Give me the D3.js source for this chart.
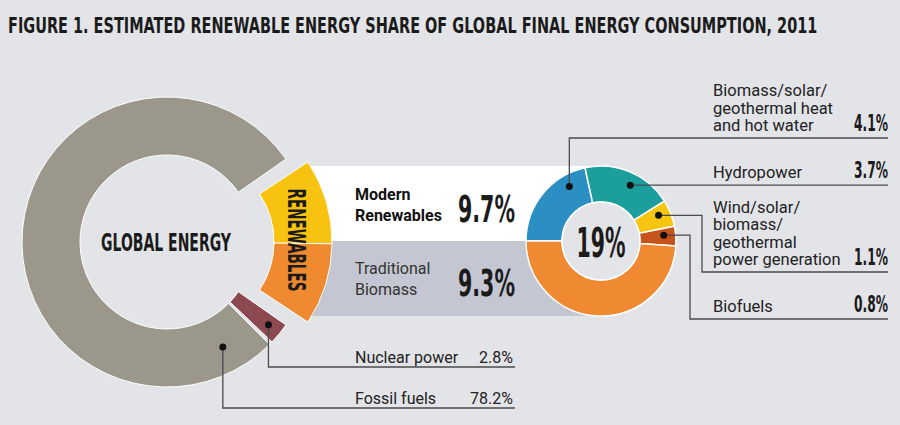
<!DOCTYPE html>
<html>
<head>
<meta charset="utf-8">
<script src="https://cdn.jsdelivr.net/npm/d3@7"></script>
<style>
  body { margin: 0; background: #e3e4e8; }
  svg { display: block; }
</style>
</head>
<body>
<div id="chart"></div>
<script>
// global energy split
var globalLabels = ["Renewables", "Nuclear power", "Fossil fuels"];
var globalValues = [19, 2.8, 78.2];

// renewables split
var renewLabels = [["Modern", "Renewables"], ["Traditional", "Biomass"]];
var renewValues = [9.7, 9.3];

// inner donut of renewables
var shareLabels = [
  ["Biomass/solar/", "geothermal heat", "and hot water"],
  ["Hydropower"],
  ["Wind/solar/", "biomass/", "geothermal", "power generation"],
  ["Biofuels"],
  ["Traditional Biomass"]
];
var shareValues = [4.1, 3.7, 1.1, 0.8, 9.3];

var width = 900, height = 425;
var condFont = "'Liberation Sans Narrow', 'DejaVu Sans Condensed', sans-serif";
var bodyFont = "Roboto, 'Liberation Sans', sans-serif";

var svg = d3.select("#chart").append("svg")
    .attr("width", width)
    .attr("height", height);

svg.append("rect")
    .attr("width", width).attr("height", height)
    .attr("fill", "#e3e4e8");

// condensed look: scale the text horizontally to a target width
function squeeze(sel, pre, w, sy) {
  sel.each(function() {
    var nat = this.getComputedTextLength();
    d3.select(this).attr("transform", pre + " scale(" + (w / nat) + "," + (sy || 1) + ")");
  });
}

function condText(size) {
  return svg.append("text")
      .attr("font-family", condFont)
      .attr("font-weight", "bold")
      .attr("font-size", size)
      .attr("fill", "#1b1b1b");
}

condText(20)
    .text("FIGURE 1. ESTIMATED RENEWABLE ENERGY SHARE OF GLOBAL FINAL ENERGY CONSUMPTION, 2011")
    .call(squeeze, "translate(8,33)", 810, 1.1);

// bands behind the middle labels
var small = {x: 601, y: 241, r0: 39, r1: 75};
svg.append("rect")
    .attr("x", 310).attr("y", small.y - 75)
    .attr("width", small.x - 310).attr("height", 75)
    .attr("fill", "#ffffff");
svg.append("rect")
    .attr("x", 310).attr("y", small.y)
    .attr("width", small.x - 310).attr("height", 75)
    .attr("fill", "#c4c7d1");

// big ring
var big = {x: 167, y: 242, r0: 87, r1: 145};
var total = d3.sum(globalValues);
var a0 = Math.PI / 2 - (globalValues[0] / total) * Math.PI;
var pie = d3.pie().sort(null).value(function(d) { return d; })
    .startAngle(a0).endAngle(a0 + 2 * Math.PI);
var slices = pie(globalValues);
var gap = 0.012;

var bigArc = d3.arc().innerRadius(big.r0).outerRadius(big.r1);
var gBig = svg.append("g").attr("transform", "translate(" + big.x + "," + big.y + ")");
var bigColors = ["none", "#8c4a50", "#9b978b"];

gBig.selectAll("path.seg")
    .data(slices.slice(1))
    .enter()
    .append("path")
      .attr("class", "seg")
      .attr("d", function(d) {
        return bigArc({startAngle: d.startAngle + gap, endAngle: d.endAngle - gap});
      })
      .attr("fill", function(d, i) { return bigColors[i + 1]; })
      .attr("stroke", "#ffffff")
      .attr("stroke-width", 1);

// renewables pulled out to the right
var ren = slices[0];
var renPie = d3.pie().sort(null).value(function(d) { return d; })
    .startAngle(ren.startAngle + gap).endAngle(ren.endAngle - gap);
var gRen = svg.append("g").attr("transform", "translate(" + (big.x + 20) + "," + big.y + ")");
gRen.selectAll("path")
    .data(renPie(renewValues))
    .enter()
    .append("path")
      .attr("d", bigArc)
      .attr("fill", function(d, i) { return ["#f8c310", "#ef8a30"][i]; })
      .attr("stroke", "#ffffff")
      .attr("stroke-width", 1);

condText(25)
    .attr("text-anchor", "middle")
    .attr("dy", "0.36em")
    .text("RENEWABLES")
    .call(squeeze, "translate(297,240) rotate(90)", 103);

condText(24)
    .attr("text-anchor", "middle")
    .text("GLOBAL ENERGY")
    .call(squeeze, "translate(" + (big.x - 1) + "," + (big.y + 9) + ")", 130);

// small donut
var sPie = d3.pie().sort(null).value(function(d) { return d; })
    .startAngle(-Math.PI / 2).endAngle(1.5 * Math.PI);
var sSlices = sPie(shareValues);
var sArc = d3.arc().innerRadius(small.r0).outerRadius(small.r1);
var sColors = ["#2b8fc3", "#1b9e9c", "#f6c50f", "#c6521c", "#ef8a32"];
var gSmall = svg.append("g").attr("transform", "translate(" + small.x + "," + small.y + ")");
gSmall.selectAll("path")
    .data(sSlices)
    .enter()
    .append("path")
      .attr("d", sArc)
      .attr("fill", function(d, i) { return sColors[i]; })
      .attr("stroke", "#ffffff")
      .attr("stroke-width", 1.5);
gSmall.append("circle")
    .attr("r", small.r0)
    .attr("fill", "#e3e4e8")
    .attr("stroke", "#ffffff")
    .attr("stroke-width", 1.5);
condText(40)
    .attr("text-anchor", "middle")
    .text(d3.sum(shareValues).toFixed(0) + "%")
    .call(squeeze, "translate(" + small.x + "," + (small.y + 16) + ")", 49);

// point on a slice, t = fraction along the slice
function pointOn(d, t, r, cx, cy) {
  var a = d.startAngle + (d.endAngle - d.startAngle) * t;
  return [cx + r * Math.sin(a), cy - r * Math.cos(a)];
}

// leaders for the small donut
var lineEnd = 888;
var leaders = [
  {t: 0.77, lineY: 138, up: true},
  {t: 0.57, lineY: null},
  {t: 0.39, elbowX: 702, lineY: 272},
  {t: 0.40, elbowX: 690, lineY: 319}
];

leaders.forEach(function(l, i) {
  var p = pointOn(sSlices[i], l.t, 63, small.x, small.y);
  var y = l.lineY == null ? p[1] : l.lineY;
  var path = d3.path();
  path.moveTo(p[0], p[1]);
  if (l.up) {
    path.lineTo(p[0], y);
  } else if (l.elbowX) {
    path.lineTo(l.elbowX, p[1]);
    path.lineTo(l.elbowX, y);
  }
  path.lineTo(lineEnd, y);
  svg.append("path")
      .attr("d", path.toString())
      .attr("fill", "none")
      .attr("stroke", "#4a4a4a")
      .attr("stroke-width", 1.3);
  svg.append("circle")
      .attr("cx", p[0]).attr("cy", p[1]).attr("r", 3.5)
      .attr("fill", "#111");

  var lines = shareLabels[i];
  var base = y - 7;
  svg.append("g").selectAll("text")
      .data(lines)
      .enter()
      .append("text")
        .attr("x", 713)
        .attr("y", function(d, j) { return base - (lines.length - 1 - j) * 17.5; })
        .attr("font-family", bodyFont)
        .attr("font-size", 16.5)
        .attr("fill", "#222")
        .text(function(d) { return d; });

  condText(23)
      .attr("text-anchor", "end")
      .text(shareValues[i].toFixed(1) + "%")
      .call(squeeze, "translate(" + lineEnd + "," + base + ")", 34);
});

// middle labels
var midBase = [221, 295];
renewLabels.forEach(function(lines, i) {
  svg.append("g").selectAll("text")
      .data(lines)
      .enter()
      .append("text")
        .attr("x", 355)
        .attr("y", function(d, j) { return midBase[i] - (lines.length - 1 - j) * 21.5; })
        .attr("font-family", bodyFont)
        .attr("font-weight", i == 0 ? "bold" : "normal")
        .attr("font-size", 16)
        .attr("fill", i == 0 ? "#111" : "#333")
        .text(function(d) { return d; });
  condText(38)
      .attr("text-anchor", "end")
      .text(renewValues[i].toFixed(1) + "%")
      .call(squeeze, "translate(515," + (midBase[i] + 1) + ")", 57);
});

// leaders for nuclear and fossil fuels
var bigLeaders = [
  {slice: 1, t: 0.5, r: 131, lineY: 367},
  {slice: 2, t: 0.063, r: 119, lineY: 408}
];
bigLeaders.forEach(function(l) {
  var d = slices[l.slice];
  var p = pointOn(d, l.t, l.r, big.x, big.y);
  svg.append("path")
      .attr("d", "M" + p[0] + "," + p[1] + "V" + l.lineY + "H515")
      .attr("fill", "none")
      .attr("stroke", "#4a4a4a")
      .attr("stroke-width", 1.3);
  svg.append("circle")
      .attr("cx", p[0]).attr("cy", p[1]).attr("r", 3.5)
      .attr("fill", "#111");
  svg.append("text")
      .attr("x", 355).attr("y", l.lineY - 4)
      .attr("font-family", bodyFont)
      .attr("font-size", 16)
      .attr("fill", "#222")
      .text(globalLabels[l.slice]);
  svg.append("text")
      .attr("x", 513).attr("y", l.lineY - 4)
      .attr("text-anchor", "end")
      .attr("font-family", bodyFont)
      .attr("font-size", 16)
      .attr("fill", "#222")
      .text(globalValues[l.slice].toFixed(1) + "%");
});
</script>
</body>
</html>
